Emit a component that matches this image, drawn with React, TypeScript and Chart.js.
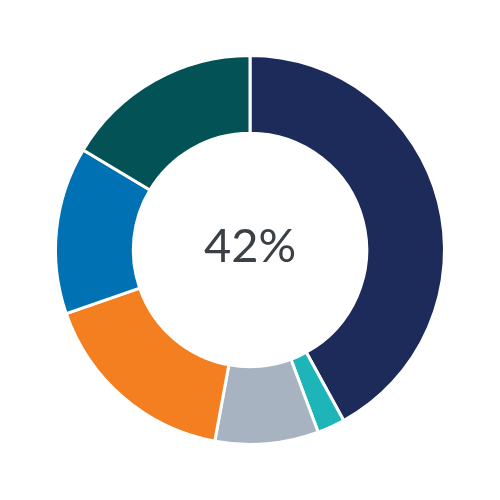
import React, { useEffect, useRef } from 'react';
import { Chart } from 'chart.js/auto';

const labels = ['A', 'B', 'C', 'D', 'E', 'F'];
const values = [42, 2.3, 8.6, 16.8, 13.9, 16.4];
const colors = ['#1c2b5a', '#1db5b8', '#a8b3c2', '#f47f20', '#0071b3', '#035356'];
const centerLabel = '42%';

const centerText = {
  id: 'centerText',
  afterDraw(chart: any) {
    const meta = chart.getDatasetMeta(0);
    const arc = meta.data[0];
    if (!arc) return;
    const { ctx } = chart;
    ctx.save();
    ctx.font = '400 47px Lato, "Open Sans", sans-serif';
    ctx.fillStyle = '#3b4045';
    ctx.textAlign = 'center';
    ctx.textBaseline = 'middle';
    ctx.fillText(centerLabel, arc.x, arc.y - 3);
    ctx.restore();
  },
};

const App: React.FC = () => {
  const canvasRef = useRef<HTMLCanvasElement>(null);

  useEffect(() => {
    if (!canvasRef.current) return;
    const chart = new Chart(canvasRef.current, {
      type: 'doughnut',
      data: {
        labels,
        datasets: [{
          data: values,
          backgroundColor: colors,
          borderColor: '#ffffff',
          borderWidth: 3,
        }],
      },
      options: {
        animation: false,
        responsive: true,
        maintainAspectRatio: false,
        cutout: '60%',
        layout: { padding: 46 },
        plugins: {
          legend: { display: false },
          tooltip: { enabled: false },
        },
      },
      plugins: [centerText],
    });
    return () => chart.destroy();
  }, []);

  return (
    <div style={{ width: 484, height: 484 }}>
      <canvas ref={canvasRef}></canvas>
    </div>
  );
};

export default App;
